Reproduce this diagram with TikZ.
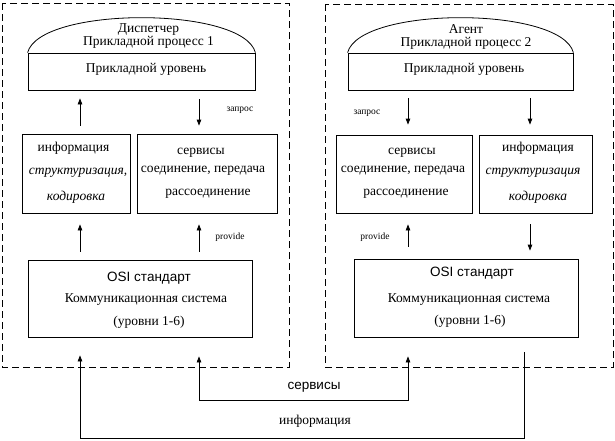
\documentclass[tikz,border=0pt]{standalone}
\usepackage{fontspec}
\setmainfont{Liberation Serif}
\newfontfamily\arialf{Liberation Sans}
\usetikzlibrary{arrows.meta}
\begin{document}
\begin{tikzpicture}[x=1pt,y=-1pt,
  box/.style={draw, line width=0.8pt, inner sep=0pt},
  frame/.style={draw, line width=0.8pt, dash pattern=on 7pt off 4pt},
  arr/.style={line width=0.8pt, -{Triangle[length=6pt,width=4.5pt]}},
  biarr/.style={line width=0.8pt, {Triangle[length=6pt,width=4.5pt]}-{Triangle[length=6pt,width=4.5pt]}},
  txt/.style={inner sep=0pt, font=\fontsize{13.5}{15}\selectfont},
  domet/.style={inner sep=0pt, align=center, font=\fontsize{13.5}{13}\selectfont},
  itxt/.style={inner sep=0pt, font=\fontsize{13.5}{15}\selectfont\itshape},
  stxt/.style={inner sep=0pt, font=\arialf\fontsize{13.5}{15}\selectfont},
  small/.style={inner sep=0pt, font=\fontsize{9.5}{11}\selectfont}]
\useasboundingbox (0,0) rectangle (615,440);
\fill[white] (0,0) rectangle (615,440);
% frames
\draw[frame] (2,3) rectangle (289,367);
\draw[frame] (325,4) rectangle (613,367);
% left boxes
\node[box, minimum width=227pt, minimum height=37pt] (lapp) at (141.5,71.5) {};
\node[box, minimum width=108pt, minimum height=79pt] (linfo) at (76.5,173.5) {};
\node[box, minimum width=140pt, minimum height=79pt] (lserv) at (207,173.5) {};
\node[box, minimum width=224pt, minimum height=77pt] (losi) at (140,298.5) {};
% right boxes
\node[box, minimum width=225pt, minimum height=37pt] (rapp) at (460.5,71.5) {};
\node[box, minimum width=136pt, minimum height=78pt] (rserv) at (404,174) {};
\node[box, minimum width=113pt, minimum height=78pt] (rinfo) at (535.5,174) {};
\node[box, minimum width=224pt, minimum height=78pt] (rosi) at (466,298) {};
% domes
\draw[line width=0.8pt] (lapp.north west) .. controls (40,6) and (243,6) .. (lapp.north east);
\draw[line width=0.8pt] (rapp.north west) .. controls (360,6) and (561,6) .. (rapp.north east);
% texts left
\node[domet] (ldome) at (148.5,36.5) {Диспетчер\\Прикладной процесс 1};
\node[txt] (lappt) at (146,69) {Прикладной уровень};
\node[small] (lzap) at (240,110) {запрос};
\node[txt] (linf1) at (73.5,148) {информация};
\node[itxt] (linf2) at (78,173) {структуризация,};
\node[itxt] (linf3) at (76,197) {кодировка};
\node[txt] (lsrv1) at (201,153) {сервисы};
\node[txt] (lsrv2) at (203,171) {соединение, передача};
\node[txt] (lsrv3) at (208,194) {рассоединение};
\node[small] (lprov) at (230,237) {provide};
\node[stxt] (losi1) at (149,278) {OSI стандарт};
\node[txt] (losi2) at (146,300) {Коммуникационная система};
\node[txt] (losi3) at (149,322) {(уровни 1-6)};
% texts right
\node[domet] (rdome) at (466,36.5) {Агент\\Прикладной процесс 2};
\node[txt] (rappt) at (464,69) {Прикладной уровень};
\node[small] (rzap) at (367,113) {запрос};
\node[txt] (rsrv1) at (412,153) {сервисы};
\node[txt] (rsrv2) at (403,171) {соединение, передача};
\node[txt] (rsrv3) at (406,194) {рассоединение};
\node[txt] (rinf1) at (538,148) {информация};
\node[itxt] (rinf2) at (533,173) {структуризация};
\node[itxt] (rinf3) at (538,197) {кодировка};
\node[small] (rprov) at (375,237) {provide};
\node[stxt] (rosi1) at (472,273) {OSI стандарт};
\node[txt] (rosi2) at (469,300) {Коммуникационная система};
\node[txt] (rosi3) at (470,321) {(уровни 1-6)};
% bottom labels
\node[stxt] (bserv) at (314,387) {сервисы};
\node[txt] (binfo) at (315,421) {информация};
% columns
\coordinate (cA) at (80,0);
\coordinate (cB) at (199,0);
\coordinate (cC) at (408,0);
\coordinate (cD) at (530,0);
\coordinate (cE) at (524,0);
\coordinate (sv) at (0,400.5);
\coordinate (iv) at (0,438.5);
% vertical arrows
\draw[arr, shorten <=8pt, shorten >=8pt] (linfo.north -| cA) -- (lapp.south -| cA);
\draw[arr, shorten <=9pt, shorten >=8pt] (lapp.south -| cB) -- (lserv.north -| cB);
\draw[arr, shorten <=8pt, shorten >=11pt] (losi.north -| cA) -- (linfo.south -| cA);
\draw[arr, shorten <=8pt, shorten >=11pt] (losi.north -| cB) -- (lserv.south -| cB);
\draw[arr, shorten <=8pt, shorten >=10pt] (rapp.south -| cC) -- (rserv.north -| cC);
\draw[arr, shorten <=8pt, shorten >=10pt] (rapp.south -| cD) -- (rinfo.north -| cD);
\draw[arr, shorten <=12pt, shorten >=11pt] (rosi.north -| cC) -- (rserv.south -| cC);
\draw[arr, shorten <=11pt, shorten >=8pt] (rinfo.south -| cD) -- (rosi.north -| cD);
% bottom connectors
\draw[biarr, shorten <=19pt, shorten >=19pt] (losi.south -| cB) -- (cB |- sv) -- (cC |- sv) -- (rosi.south -| cC);
\draw[arr, shorten <=15pt, shorten >=18pt] (rosi.south -| cE) -- (cE |- iv) -- (cA |- iv) -- (losi.south -| cA);
\end{tikzpicture}
\end{document}
